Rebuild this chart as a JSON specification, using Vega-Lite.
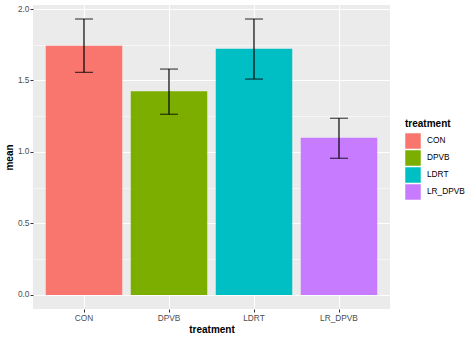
{
  "$schema": "https://vega.github.io/schema/vega-lite/v6.json",
  "width": 357,
  "height": 304,
  "autosize": {"type": "none"},
  "padding": {"left": 33, "top": 5, "right": 84, "bottom": 29},
  "background": "white",
  "data": {
    "values": [
      {"treatment": "CON", "mean": 1.743, "lo": 1.557, "hi": 1.93},
      {"treatment": "DPVB", "mean": 1.425, "lo": 1.264, "hi": 1.58},
      {"treatment": "LDRT", "mean": 1.722, "lo": 1.51, "hi": 1.93},
      {"treatment": "LR_DPVB", "mean": 1.10, "lo": 0.956, "hi": 1.236}
    ]
  },
  "config": {
    "font": "Liberation Sans",
    "view": {"fill": "#EBEBEB", "stroke": null},
    "axis": {
      "domain": false,
      "tickColor": "#333333",
      "tickSize": 3,
      "tickWidth": 1,
      "labelColor": "#4D4D4D",
      "labelFontSize": 8.3,
      "labelFont": "Liberation Sans",
      "titleFont": "Liberation Sans",
      "titleFontSize": 10,
      "titleFontWeight": "bold",
      "titleColor": "black",
      "gridColor": "white",
      "gridOpacity": 1
    },
    "legend": {"padding": 0}
  },
  "encoding": {
    "x": {
      "field": "treatment",
      "type": "nominal",
      "scale": {"paddingInner": 0.1, "paddingOuter": 0.15},
      "axis": {
        "title": "treatment",
        "labelAngle": 0,
        "grid": true,
        "gridWidth": 1.1,
        "bandPosition": 0.5,
        "labelPadding": 1,
        "titlePadding": 3
      }
    }
  },
  "layer": [
    {
      "mark": {"type": "bar"},
      "encoding": {
        "y": {
          "field": "mean",
          "type": "quantitative",
          "scale": {"domain": [-0.098, 2.028], "nice": false, "zero": false},
          "axis": {
            "title": "mean",
            "values": [0, 0.5, 1, 1.5, 2],
            "format": ".1f",
            "grid": true,
            "gridWidth": 1.1,
            "labelPadding": 1,
            "titlePadding": 3
          }
        },
        "y2": {"datum": 0},
        "color": {
          "field": "treatment",
          "type": "nominal",
          "scale": {"range": ["#F8766D", "#7CAE00", "#00BFC4", "#C77CFF"]},
          "legend": {
            "title": "treatment",
            "orient": "none",
            "legendX": 372,
            "legendY": 114,
            "symbolType": "square",
            "symbolSize": 240,
            "symbolStrokeWidth": 0,
            "symbolOpacity": 1,
            "rowPadding": 1,
            "labelOffset": 6,
            "labelFontSize": 8.3,
            "labelColor": "black",
            "titleFontSize": 10,
            "titleFontWeight": "bold",
            "titleColor": "black",
            "titlePadding": 4
          }
        }
      }
    },
    {
      "mark": {"type": "rule", "color": "black", "strokeWidth": 1.2},
      "encoding": {
        "y": {
          "field": "lo",
          "type": "quantitative",
          "axis": {
            "values": [0.25, 0.75, 1.25, 1.75],
            "grid": true,
            "gridWidth": 0.55,
            "labels": false,
            "ticks": false,
            "title": null,
            "orient": "left"
          }
        },
        "y2": {"field": "hi"}
      }
    },
    {
      "mark": {"type": "tick", "color": "black", "thickness": 1.2, "size": 18},
      "encoding": {"y": {"field": "lo", "type": "quantitative", "axis": null}}
    },
    {
      "mark": {"type": "tick", "color": "black", "thickness": 1.2, "size": 18},
      "encoding": {"y": {"field": "hi", "type": "quantitative", "axis": null}}
    }
  ],
  "resolve": {"axis": {"y": "independent"}}
}
